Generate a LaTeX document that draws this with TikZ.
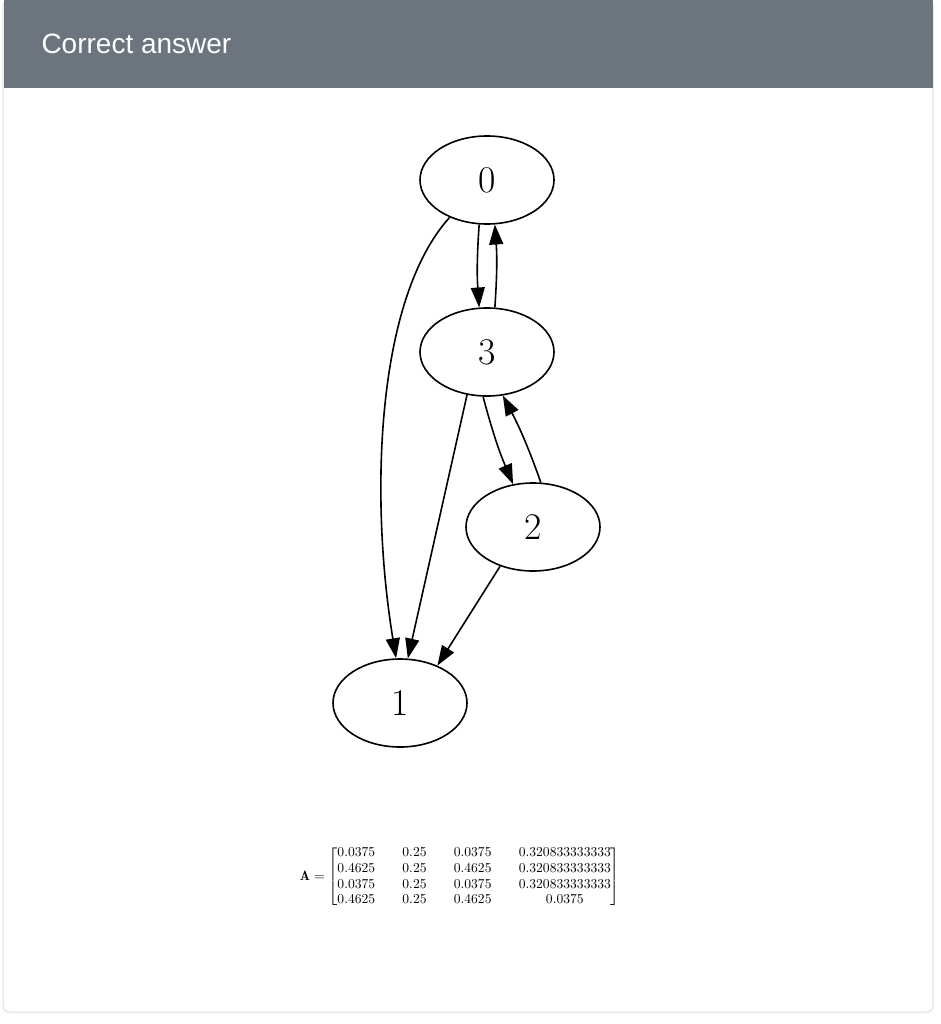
\documentclass[tikz,border=0pt]{standalone}
\usepackage{amsmath}
\usepackage{fontspec}
\newfontfamily\hdr{Liberation Sans}
\usetikzlibrary{arrows.meta,shapes.geometric}
\definecolor{hdrgray}{HTML}{6C757D}
\definecolor{cardborder}{HTML}{DDDDDD}
\begin{document}
\begin{tikzpicture}[x=1pt,y=-1pt,
  vtx/.style={draw,line width=1.6pt,ellipse,minimum width=134pt,minimum height=88pt,font=\fontsize{26}{30}\selectfont},
  lbl/.style={scale=1.45,font=\fontsize{26}{30}\selectfont},
  edge/.style={line width=1.6pt,-{Triangle[length=20pt,width=14pt]}}]
\useasboundingbox (0,0) rectangle (940,1024);
\draw[cardborder,line width=1pt,rounded corners=6pt] (3,0.5) rectangle (933,1012);
\fill[hdrgray] (3.5,0) rectangle (932.5,88);
\node[anchor=west,text=white,font=\hdr\fontsize{28}{32}\selectfont] (hdr) at (38,44) {Correct answer};
\node[vtx] (n0) at (487,180) {};
\node[vtx] (n3) at (487,352) {};
\node[vtx] (n2) at (533,527) {};
\node[vtx] (n1) at (400,703) {};
\node[lbl] at (n0) {0};
\node[lbl] at (n3) {3};
\node[lbl] at (n2) {2};
\node[lbl] at (n1) {1};
\draw[edge] (n0.-100) to[bend right=4] (n3.100);
\draw[edge] (n3.80) to[bend right=4] (n0.-80);
\draw[edge] (n3.-95) to[bend right=4] (n2.115);
\draw[edge] (n2.80) to[bend right=4] (n3.-70);
\draw[edge] (n3.-115) -- (n1.80);
\draw[edge] (n2.-130) -- (n1.45);
\draw[edge] (n0.-135) .. controls (375,300) and (370,500) .. (n1.95);
\node[scale=1.36] (mat) at (460,877) {$\mathbf{A}=\renewcommand{\arraystretch}{0.97}\setlength{\arraycolsep}{10pt}\begin{bmatrix}0.0375&0.25&0.0375&0.320833333333\\0.4625&0.25&0.4625&0.320833333333\\0.0375&0.25&0.0375&0.320833333333\\0.4625&0.25&0.4625&0.0375\end{bmatrix}$};
\end{tikzpicture}
\end{document}
